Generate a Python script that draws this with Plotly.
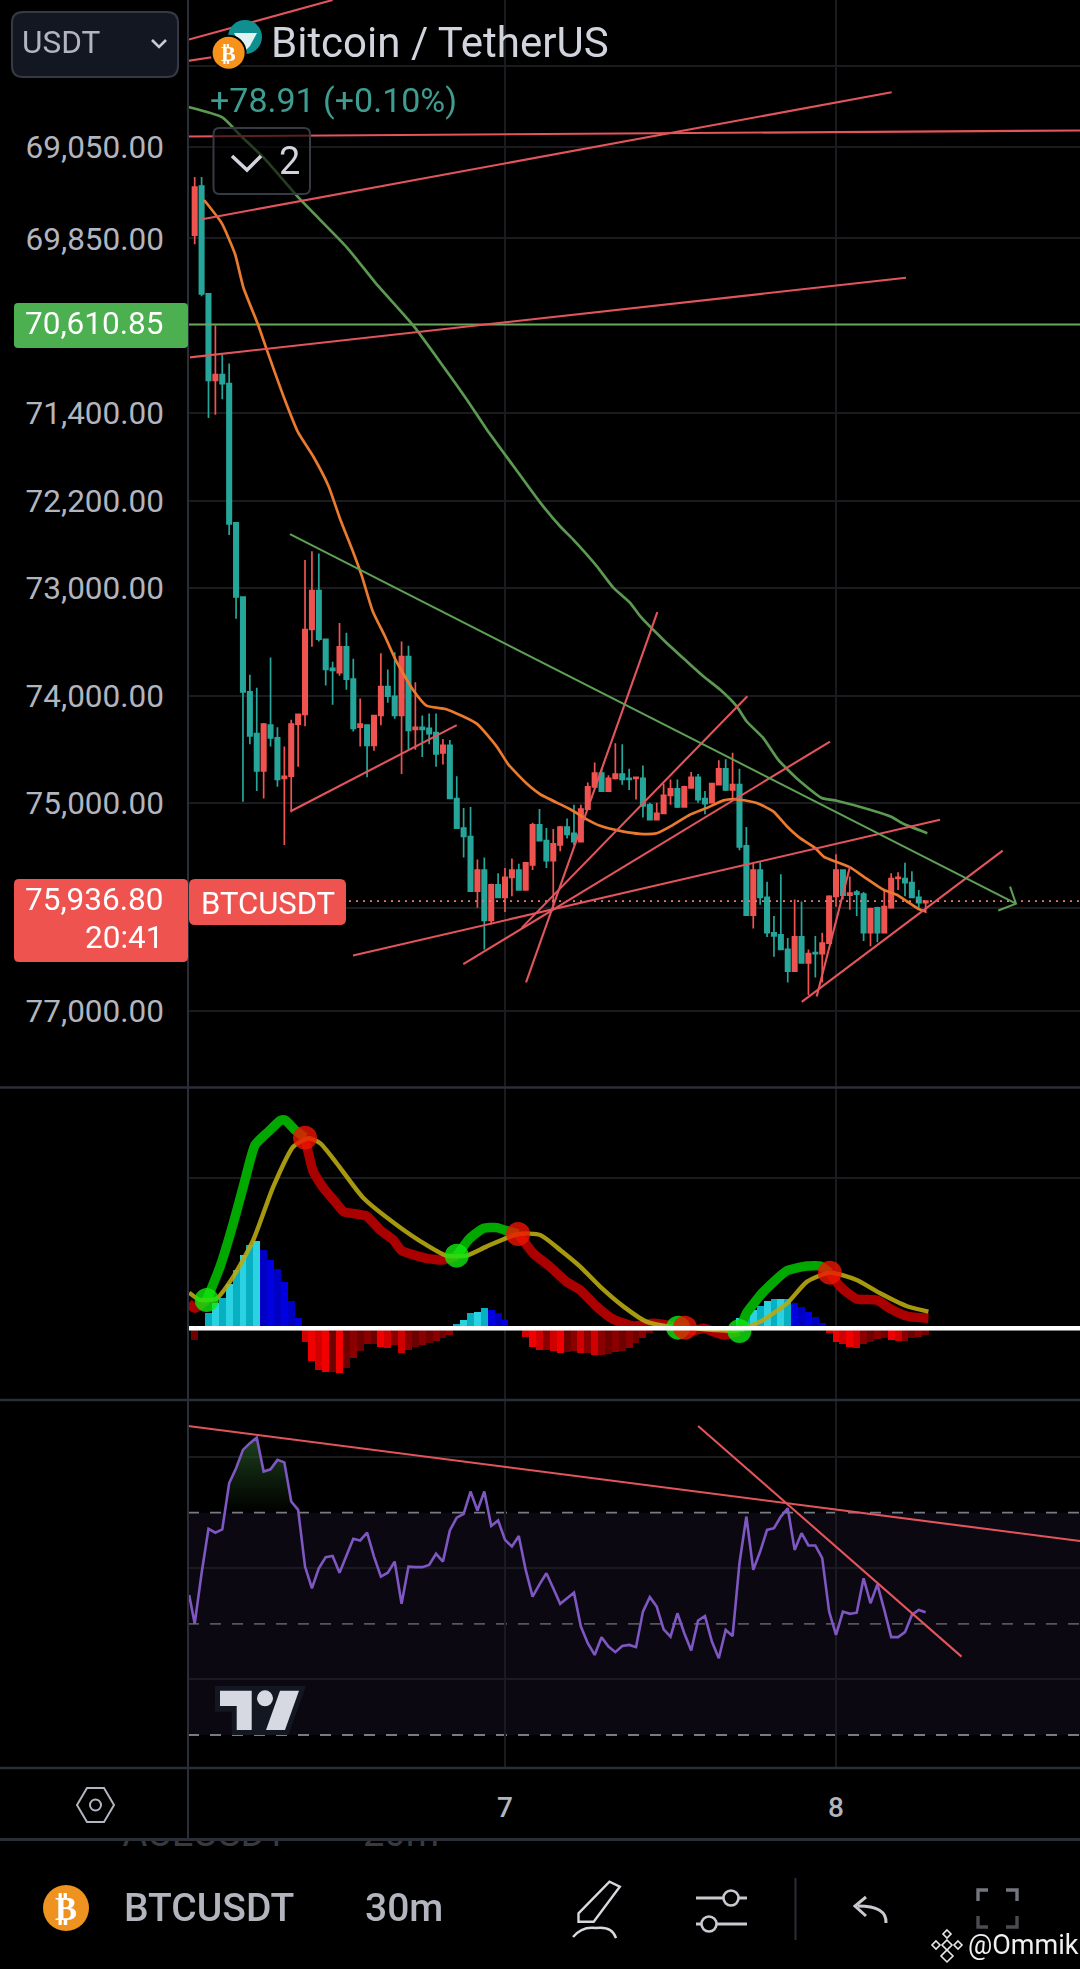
import math
import plotly.graph_objects as go

W, H = 1080, 1969

# ---- candles (30 minute bars, index 0..106) ----
open_ = [69820,69390,70340,71110,71060,71140,72400,73080,73960,74350,74700,74270,74390,74770,74750,74260,74170,73380,73020,73470,
73740,73780,73540,73840,74290,74270,74460,74180,73910,74000,74180,73630,74310,74290,74300,74340,74530,74460,74960,75240,
75320,75840,75640,76120,75780,75900,75710,75640,75830,75590,75210,75360,75550,75400,75230,75290,75370,75060,74850,74720,
74890,74770,74730,74770,74770,74770,75020,75160,75100,74930,74870,75040,74860,74760,74960,75000,74830,74680,74880,74830,
75410,76070,75640,75900,76240,76260,76400,76610,76280,76530,76430,76440,76340,75890,75640,75880,75850,75870,76240,76000,
76240,76000,75720,75720,75760,75900,75950]
close = [69400,70340,71110,71060,71140,72410,73080,73960,74370,74700,74260,74390,74780,74750,74260,74170,73380,73020,73470,73750,
73760,73540,73840,74300,74260,74460,74180,73910,74000,74180,73630,74320,74290,74310,74350,74540,74460,74960,75240,75320,
75840,75640,76120,75780,75900,75710,75640,75830,75570,75210,75360,75550,75390,75230,75300,75370,75060,74850,74720,74890,
74770,74730,74780,74780,74760,75030,75160,75100,74930,74870,75040,74850,74760,74970,75010,74820,74680,74880,74830,75420,
76070,75640,75900,76240,76270,76400,76610,76280,76530,76440,76440,76340,75890,75640,75880,75860,75870,76240,76010,76240,
75990,75720,75710,75760,75900,75950,75936.8]
low = [69310,69310,70340,70620,70880,70960,72400,73080,73800,73920,74250,73640,74290,74470,74220,74160,72740,72660,72680,73470,
73680,73320,73410,73650,74020,74270,74180,73600,73750,73590,73490,73530,73870,74180,74160,74160,74400,74410,74750,75050,
75040,75540,75520,75770,75670,75620,75530,75580,75570,75190,75060,75240,75250,75220,75150,75020,75020,74810,74620,74680,
74740,74440,74450,74680,74760,74650,75000,75000,74820,74780,74780,74840,74710,74730,74890,74820,74600,74590,74530,74680,
75230,75580,75560,75750,76080,75680,76290,75920,75940,76400,76270,76240,75880,75490,75640,75700,75830,75850,76000,75990,
75830,75670,75660,75570,75650,75830,75930]
high = [69900,70360,71450,71420,71280,72510,73280,74990,74450,74890,74960,74470,74850,75400,75090,74660,74280,73540,73490,73900,
74080,73810,73940,74330,74470,74760,74510,74270,74060,74210,74730,74500,74500,74570,74450,74660,74640,74960,75240,75520,
75850,76000,76400,76160,75910,76040,75890,75830,75830,75640,75360,75620,76020,75460,75340,75400,75370,75070,74860,74890,
74890,74780,74830,74880,74970,75140,75160,75160,75100,75020,75050,75040,74860,75000,75110,75000,74830,74890,74970,75450,
76070,76200,75970,76280,76470,76400,76720,76610,76530,76840,76670,76720,76340,75990,75920,76020,76080,76320,76370,76330,
76240,76010,75830,75890,75910,76020,76050]
candle_idx = list(range(len(open_)))

# ---- moving averages ----
ema_fast_idx = [1.36,3.9,5.85,7.06,9.23,10.5,12.9,15,17.2,19.4,21.1,23,24.2,25.8,27.6,29.3,31.7,33.6,36.5,40.9,43.8,45.5,48.1,50.1,
54.4,56.8,58.8,61.7,64.6,67,69.4,71.8,74.2,76.7,78.1,79.1,81.5,83.9,85.9,87.8,90,91.2,92.9,95,97,99.9,101.8,103.3,105,106]
ema_fast_val = [69512,69713,69987,70283,70620,70845,71257,71579,71797,72064,72367,72670,72879,73209,73445,73683,73944,74087,74121,74256,74471,74640,74817,74920,
75060,75155,75219,75267,75295,75289,75209,75114,75051,74978,74966,74972,75003,75082,75225,75336,75431,75511,75558,75612,75702,75828,75876,75940,76013,76035]
ema_slow_idx = [-0.92,4.02,6.69,10.2,15.27,22.09,26.22,31.66,36,39.45,42.35,46.16,50.08,52.98,54.9,58.3,60.7,63.13,64.6,67.95,71.35,73.76,76.18,78.6,80.05,82.46,84.63,87.53,90.92,93.1,97.93,101.08,102.76,106.24]
ema_slow_val = [68702,68792,68952,69155,69505,69930,70242,70618,70982,71282,71552,71878,72213,72431,72553,72796,72994,73133,73257,73474,73675,73814,73938,74095,74236,74392,74596,74784,74956,74981,75067,75136,75200,75289]

# ---- drawn trend lines on the price pane ----
LEFT_IDX, RIGHT_IDX = -0.97, 128.38
red_line_idx = [(-0.97,20),(-0.97,2.95),(-0.97,128.38),(1.06,101.07),(-0.68,103.15),(13.92,38),(48.05,67.09),(38.95,92.13),(47.42,80.14),(22.96,108.08),(88.03,117.17),(90.2,95.03)]
red_line_val = [(68122,67781),(68303,68268),(68957,68905),(69680,68574),(70905,70197),(75081,74270),(76719,73220),(76542,74424),(76193,74000),(76459,75162),(76907,75454),(76854,75605)]
green_level = 70610.85
last_price = 75936.8
arrow_idx = [13.82,119.1]
arrow_val = [72502,75960]
arrow_head_idx = [118.23,119.1,116.53]
arrow_head_val = [75797,75960,76026]

# ---- MACD pane ----
hist_val = [-35,5,47,75,90,133,175,220,250,263,235,205,178,140,83,30,
-40,-97,-125,-130,-130,-133,-120,-90,-67,-47,-47,-57,-59,-50,-75,-65,-57,-50,-43,-37,-30,-20,
13,25,47,50,60,55,47,25,5,-3,-25,-55,-65,-65,-67,-73,-72,-67,
-75,-75,-80,-80,-78,-72,-68,-58,-45,-30,-13,-5,-3,-2,1,-1,-4,-3,-3,-5,-5,-3,0,
30,50,55,67,82,87,88,89,75,63,50,35,17,
-13,-40,-47,-55,-60,-47,-40,-33,-30,-35,-37,-37,-30,-25,-20]
macd_segments = [
 ("red",[-0.9,0.05,1.74],[75,60,85]),
 ("green",[1.74,3.68,5.6,7.3,8.75,10.7,12.4,13.1,14.55,16],[85,185,315,445,550,590,623,625,595,572]),
 ("red",[16,16.5,17.2,18.7,20.35,21.6,24.9,26.9,28.8,30,33.6,36.05,38],[572,525,470,420,380,350,337,295,265,233,210,205,218]),
 ("green",[38,39.9,41.9,43.8,45.7,46.9],[218,270,300,302,290,283]),
 ("red",[46.9,49.1,51.5,53.9,55.9,58.3,60.7,63.6,66.5,68.4,70.1],[283,225,185,140,115,65,27,7,15,10,2]),
 ("green",[70.1,71.1],[2,2]),
 ("red",[71.1,72.3,73.8,75.2,76.7,79],[2,-7,0,-10,-20,-8]),
 ("green",[79,80,82.5,85.9,88.8,90.7,92.1],[-8,45,110,173,187,187,167]),
 ("red",[92.1,93.6,96,98.9,100.8,103.2,106.4],[167,125,88,85,60,37,30]),
]
signal_idx = [-0.8,0.8,3.2,5.6,8.5,11.4,14.3,16.5,18.2,20.6,24.5,29.3,33.6,36.5,39.4,42.3,46.9,50.1,53,55.9,58.8,62.2,65.5,68.9,72.3,75.2,78.6,82,85.9,88.8,92.1,96,99.4,103.2,106.4]
signal_val = [107,85,90,155,265,425,545,570,555,495,390,310,250,218,218,245,283,280,235,185,125,65,20,5,0,-5,-7,20,75,140,167,145,105,67,50]
cross_up_idx = [1.74,38,70.1,79]
cross_up_val = [85,218,2,-8]
cross_dn_idx = [16,46.9,71.1,92.1]
cross_dn_val = [572,283,2,167]

# ---- RSI pane ----
rsi_val = [50,59.1,67.1,66.4,67,75.3,78,81.3,82.5,83.5,77.4,77.8,79.5,79.05,72,70.5,60.3,56.4,60,62,62.2,59.2,62.1,65.3,65,66.4,62.1,58.5,59.2,61.2,
53.6,60.3,60.2,60.2,60.6,62.6,61.2,66.8,69.1,69.8,73.8,70.4,73.8,67.6,68.6,65.1,63.9,65.8,59.7,54.9,57.1,59.1,56.4,53.6,54.6,55.6,49.5,46.5,44.4,47.6,
45.9,44.9,46,46.2,45.8,52.2,54.8,53.1,49,47.7,51.9,48.3,45.2,50.6,51.4,46.8,43.8,48.9,47.8,60.9,69.3,59.7,63,66.9,67.2,69.3,70.8,63.3,66.3,64.1,
64.1,61.8,52.2,48,52.2,51.8,52,58.2,53.7,57.1,52.5,47.6,47.6,48.5,51.6,52.5,52.1]
rsi_head_idx = [-0.8]
rsi_head_val = [55.2]
rsi_over_idx = [4.72,5,6,7,8,9,10,11,12,13,14,15,15.1]
rsi_over_val = [70,75.3,78,81.3,82.5,83.5,77.4,77.8,79.5,79.05,72,70.5,70]
rsi_line_a_idx = [-0.97,128.38]
rsi_line_a_val = [85.6,64.9]
rsi_line_b_idx = [73,111.2]
rsi_line_b_val = [85.6,44.1]

# ---- axis ticks ----
price_ticks = [68350,69050,69850,71400,72200,73000,74000,75000,76000,77000]
price_text = ["","69,050.00","69,850.00","71,400.00","72,200.00","73,000.00","74,000.00","75,000.00","","77,000.00"]
day_ticks = [45,93]
day_text = ["7","8"]

TEAL, RED = "#26a69a", "#ef5350"
LINE_RED = "#e2555c"
GRID = "#1a1b1f"
SEP = "#2a2e39"
TXT = "#b2b5be"
FONT = "Roboto"


def dom(top, bottom):
    return [1 - bottom / H, 1 - top / H]


def fx(x):
    return x / W


def fy(y):
    return 1 - y / H


def pth(points, close_path=False):
    s = "M " + " L ".join(f"{fx(x):.5f} {fy(y):.5f}" for x, y in points)
    return s + (" Z" if close_path else "")


def rrect(x0, y0, x1, y1, r):
    return (
        f"M {fx(x0+r):.5f} {fy(y0):.5f} L {fx(x1-r):.5f} {fy(y0):.5f} "
        f"Q {fx(x1):.5f} {fy(y0):.5f} {fx(x1):.5f} {fy(y0+r):.5f} L {fx(x1):.5f} {fy(y1-r):.5f} "
        f"Q {fx(x1):.5f} {fy(y1):.5f} {fx(x1-r):.5f} {fy(y1):.5f} L {fx(x0+r):.5f} {fy(y1):.5f} "
        f"Q {fx(x0):.5f} {fy(y1):.5f} {fx(x0):.5f} {fy(y1-r):.5f} L {fx(x0):.5f} {fy(y0+r):.5f} "
        f"Q {fx(x0):.5f} {fy(y0):.5f} {fx(x0+r):.5f} {fy(y0):.5f} Z"
    )


fig = go.Figure()

# price pane
fig.add_trace(go.Candlestick(
    x=candle_idx, open=open_, high=high, low=low, close=close, xaxis="x", yaxis="y",
    increasing=dict(line=dict(color=TEAL, width=1.7), fillcolor=TEAL),
    decreasing=dict(line=dict(color=RED, width=1.7), fillcolor=RED),
    whiskerwidth=0, hoverinfo="skip",
))
fig.add_trace(go.Scatter(x=[LEFT_IDX, RIGHT_IDX], y=[last_price, last_price], mode="lines", xaxis="x", yaxis="y",
                         line=dict(color="#f0736f", width=1.6, dash="2px,5px")))
fig.add_trace(go.Scatter(x=[LEFT_IDX, RIGHT_IDX], y=[green_level, green_level], mode="lines", xaxis="x", yaxis="y",
                         line=dict(color="#6aa75e", width=2)))
fig.add_trace(go.Scatter(x=ema_slow_idx, y=ema_slow_val, mode="lines", xaxis="x", yaxis="y",
                         line=dict(color="#5b9a50", width=2.7, shape="spline", smoothing=0.5)))
fig.add_trace(go.Scatter(x=ema_fast_idx, y=ema_fast_val, mode="lines", xaxis="x", yaxis="y",
                         line=dict(color="#ea7a2e", width=2.7, shape="spline", smoothing=0.5)))
for xs, ys in zip(red_line_idx, red_line_val):
    fig.add_trace(go.Scatter(x=list(xs), y=list(ys), mode="lines", xaxis="x", yaxis="y",
                             line=dict(color=LINE_RED, width=2.1)))
fig.add_trace(go.Scatter(x=arrow_idx, y=arrow_val, mode="lines", xaxis="x", yaxis="y",
                         line=dict(color="#5f9f56", width=2)))
fig.add_trace(go.Scatter(x=arrow_head_idx, y=arrow_head_val, mode="lines", xaxis="x", yaxis="y",
                         line=dict(color="#5f9f56", width=2)))

# MACD pane: colour follows sign and direction, with the striped look of the capture
hist_colors = []
for k, v in enumerate(hist_val):
    prev = hist_val[k - 1] if k else v
    odd = k % 2 == 1
    if v >= 0:
        hist_colors.append(("#2bd3e2" if odd else "#07b0c0") if v >= prev else ("#0000e0" if odd else "#0000c4"))
    else:
        hist_colors.append(("#f20000" if odd else "#d00000") if v < prev else ("#8a0000" if odd else "#6e0000"))
fig.add_trace(go.Bar(x=candle_idx, y=hist_val, marker=dict(color=hist_colors, line=dict(width=0)), xaxis="x2", yaxis="y2"))
MACD_COL = {"red": "#ab0000", "green": "#00a800"}
for name, xs, ys in macd_segments:
    fig.add_trace(go.Scatter(x=xs, y=ys, mode="lines", xaxis="x2", yaxis="y2",
                             line=dict(color=MACD_COL[name], width=9.5, shape="spline", smoothing=0.5)))
fig.add_trace(go.Scatter(x=signal_idx, y=signal_val, mode="lines", xaxis="x2", yaxis="y2", opacity=0.9,
                         line=dict(color="#b9aa12", width=4.4, shape="spline", smoothing=0.6)))
fig.add_trace(go.Scatter(x=cross_up_idx, y=cross_up_val, mode="markers", xaxis="x2", yaxis="y2", opacity=0.8,
                         marker=dict(color="#0fe80f", size=24, line=dict(width=0))))
fig.add_trace(go.Scatter(x=cross_dn_idx, y=cross_dn_val, mode="markers", xaxis="x2", yaxis="y2", opacity=0.8,
                         marker=dict(color="#ee1500", size=24, line=dict(width=0))))

# RSI pane
fig.add_trace(go.Scatter(x=rsi_over_idx, y=rsi_over_val, mode="lines", xaxis="x3", yaxis="y3",
                         line=dict(width=0), fill="toself",
                         fillgradient=dict(type="vertical", colorscale=[[0, "rgba(30,70,30,0)"], [1, "rgba(34,78,34,0.85)"]])))
fig.add_trace(go.Scatter(x=rsi_head_idx + candle_idx, y=rsi_head_val + rsi_val, mode="lines", xaxis="x3", yaxis="y3",
                         line=dict(color="#7e57c2", width=2.6)))
fig.add_trace(go.Scatter(x=rsi_line_a_idx, y=rsi_line_a_val, mode="lines", xaxis="x3", yaxis="y3",
                         line=dict(color=LINE_RED, width=2.1)))
fig.add_trace(go.Scatter(x=rsi_line_b_idx, y=rsi_line_b_val, mode="lines", xaxis="x3", yaxis="y3",
                         line=dict(color=LINE_RED, width=2.1)))

# ghost row scrolled behind the bottom bar (clipped by its own strip of plot area)
fig.add_trace(go.Scatter(x=[205, 401], y=[1.5, 1.5], mode="text", text=["ACEUSDT", "20m"], xaxis="x4", yaxis="y4",
                         textposition="middle center", textfont=dict(family=FONT, size=38, color="#3a3a3e"), cliponaxis=True))

# ---- shapes ----
shapes = []


def add_shape(path, fill=None, line=None, width=0, layer="above"):
    d = dict(type="path", path=path, xref="paper", yref="paper", layer=layer,
             line=dict(width=width, color=line or "rgba(0,0,0,0)"))
    if fill:
        d["fillcolor"] = fill
    shapes.append(d)


def add_circle(cx, cy, r, fill=None, line=None, width=0):
    d = dict(type="circle", xref="paper", yref="paper", x0=fx(cx - r), x1=fx(cx + r), y0=fy(cy - r), y1=fy(cy + r),
             layer="above", line=dict(width=width, color=line or "rgba(0,0,0,0)"))
    if fill:
        d["fillcolor"] = fill
    shapes.append(d)


# RSI band and dashed levels
shapes.append(dict(type="rect", xref="x3 domain", yref="y3", x0=0, x1=1, y0=30, y1=70, layer="below",
                   fillcolor="rgba(126,87,194,0.09)", line=dict(width=0)))
for lvl, col in [(70, "#787b86"), (50, "#55565e"), (30, "#787b86")]:
    shapes.append(dict(type="line", xref="x3 domain", yref="y3", x0=0, x1=1, y0=lvl, y1=lvl, layer="below",
                       line=dict(color=col, width=1.8, dash="11px,11px")))
# MACD zero line
shapes.append(dict(type="line", xref="x2 domain", yref="y2", x0=0, x1=1, y0=0, y1=0, layer="above",
                   line=dict(color="#ffffff", width=4.6)))
# separators
for y, wd in [(1087.5, 2.4), (1400, 2.4), (1768, 2.4), (1839.5, 3)]:
    add_shape(pth([(0, y), (W, y)]), line=SEP, width=wd)
add_shape(pth([(188, 0), (188, 1839)]), line=SEP, width=2)

# value tags
add_shape(rrect(14, 303, 188, 348, 4), fill="#4caf50")
add_shape(rrect(14, 879, 188, 962, 5), fill=RED)
add_shape(rrect(189, 879, 346, 925, 6), fill=RED)
# top controls
add_shape(rrect(12, 12, 178, 77, 11), fill="#131722", line="#363a45", width=2)
add_shape(pth([(152, 40), (159, 47), (166, 40)]), line="#c8cad0", width=2.6)
add_shape(rrect(213.5, 128, 310, 194, 6), fill="rgba(0,0,0,0.6)", line="#363a45", width=2)
add_shape(pth([(232, 156), (247, 170), (261, 156)]), line="#d1d4dc", width=3.6)
# coins
add_circle(245, 37, 17, fill="#0f8f8f")
add_shape(pth([(234, 33), (257, 33), (250, 46), (246, 50), (240, 44)], True), fill="#dff3f3")
add_circle(228.6, 52.7, 18, fill="#000000")
add_circle(228.6, 52.7, 16, fill="#f7931a")
# TradingView mark
add_shape(pth([(215, 1686), (306, 1686), (288.3, 1735), (231.7, 1735), (231.7, 1711.7), (215, 1711.7)], True), fill="#131722")
add_shape(pth([(220, 1690.7), (251.7, 1690.7), (251.7, 1730), (236.7, 1730), (236.7, 1706), (220, 1706)], True), fill="#d6d8e2")
add_circle(265, 1698.3, 8, fill="#d6d8e2")
add_shape(pth([(280, 1690.7), (299, 1690.7), (285, 1730), (266, 1730)], True), fill="#d6d8e2")
# settings hexagon
add_shape(pth([(87, 1788), (104, 1788), (114, 1805), (104, 1822), (87, 1822), (77, 1805)], True), line=TXT, width=2)
add_circle(95.5, 1805, 5.5, line=TXT, width=2)
# bottom bar
add_circle(66, 1908, 23, fill="#ee9320")
add_shape(pth([(578.5, 1913.3), (609.5, 1881.7), (619.8, 1886.7), (593.7, 1921.7), (578.5, 1921.7)], True), line="#d6d8dd", width=2.4)
add_shape(f"M {fx(573):.5f} {fy(1937):.5f} Q {fx(582):.5f} {fy(1926):.5f} {fx(596):.5f} {fy(1928):.5f} Q {fx(612):.5f} {fy(1926):.5f} {fx(616):.5f} {fy(1938):.5f}", line="#d6d8dd", width=2.4)
add_shape(pth([(696, 1898), (723, 1898)]), line="#c8cad0", width=3)
add_shape(pth([(739, 1898), (747, 1898)]), line="#c8cad0", width=3)
add_circle(731, 1898, 7.5, line="#c8cad0", width=2.6)
add_shape(pth([(696, 1924), (701, 1924)]), line="#c8cad0", width=3)
add_shape(pth([(717, 1924), (747, 1924)]), line="#c8cad0", width=3)
add_circle(709, 1924, 7.5, line="#c8cad0", width=2.6)
add_shape(pth([(795.5, 1878), (795.5, 1940)]), line=SEP, width=2)
add_shape(f"M {fx(886):.5f} {fy(1923):.5f} Q {fx(887):.5f} {fy(1906):.5f} {fx(858):.5f} {fy(1906):.5f}", line="#c8cad0", width=3)
add_shape(pth([(866, 1897), (855, 1906), (866, 1916)]), line="#c8cad0", width=3)
for corner in ([(978, 1901), (978, 1890), (988, 1890)], [(1006, 1890), (1017, 1890), (1017, 1901)]):
    add_shape(pth(corner), line="#73767e", width=3.4)
for corner in ([(978, 1916), (978, 1927), (988, 1927)], [(1006, 1927), (1017, 1927), (1017, 1916)]):
    add_shape(pth(corner), line="#4a4c52", width=3.4)
# watermark diamonds
for cx, cy, r in [(947, 1934, 4), (947, 1945, 5), (947, 1956, 6), (936, 1945, 4), (958, 1945, 4)]:
    add_shape(pth([(cx, cy - r), (cx + r, cy), (cx, cy + r), (cx - r, cy)], True), line="#e8e8e8", width=1.6)

# ---- text ----
annots = []


def label(text, x, y, size, color, anchor="left", weight=None, family=FONT):
    annots.append(dict(text=text, x=fx(x), y=fy(y), xref="paper", yref="paper", showarrow=False, xanchor=anchor, yanchor="middle",
                       font=dict(family=family, size=size, color=color, weight=weight or 400)))


label("USDT", 20, 43, 31.5, TXT)
label("Bitcoin / TetherUS", 269, 43, 42, "#d1d4dc")
label("+78.91 (+0.10%)", 208, 100, 34, "#3e9c90")
label("2", 289, 161, 38, "#d1d4dc", "center")
label("70,610.85", 165, 323, 31.5, "#ffffff", "right")
label("75,936.80", 165, 899, 31.5, "#ffffff", "right")
label("20:41", 165, 937, 31.5, "#ffffff", "right")
label("BTCUSDT", 268, 903, 31, "#ffffff", "center")
label("₿", 228.6, 53, 22, "#ffffff", "center", 700, "DejaVu Sans")
label("₿", 66, 1908, 33, "#ffffff", "center", 700, "DejaVu Sans")
label("BTCUSDT", 122, 1908, 39, TXT, "left", 500)
label("30m", 363, 1908, 39, TXT, "left", 500)
label("@Ommik", 966, 1945, 27, "#f0f0f0")

axis_common = dict(range=[LEFT_IDX, RIGHT_IDX], domain=[188 / W, 1], showline=False, zeroline=False, fixedrange=True,
                   tickmode="array", tickvals=day_ticks, showgrid=True, gridcolor=GRID, gridwidth=1.5, ticks="")
y_common = dict(anchor="x", side="left", showline=False, zeroline=False, fixedrange=True, gridcolor=GRID, gridwidth=1.5, ticks="")

fig.update_layout(
    width=W, height=H, margin=dict(l=0, r=0, t=0, b=0), paper_bgcolor="#000000", plot_bgcolor="#000000",
    showlegend=False, hovermode=False, bargap=0, boxgap=0.1, dragmode=False,
    font=dict(family=FONT, color=TXT),
    xaxis=dict(axis_common, anchor="y", showticklabels=False, rangeslider=dict(visible=False)),
    xaxis2=dict(axis_common, anchor="y2", showticklabels=False),
    xaxis3=dict(axis_common, anchor="y3", ticktext=day_text, showticklabels=True,
                tickfont=dict(family=FONT, size=28, color=TXT, weight=500), ticklabelstandoff=20),
    xaxis4=dict(range=[0, W], domain=[0, 1], anchor="y4", visible=False, fixedrange=True),
    yaxis=dict(y_common, type="log", domain=dom(0, 1087),
               range=[math.log10(77737), math.log10(67781)],
               tickmode="array", tickvals=price_ticks, ticktext=price_text,
               tickfont=dict(family=FONT, size=31.5, color=TXT), ticklabelstandoff=23),
    yaxis2=dict(y_common, anchor="x2", domain=dom(1088, 1400), range=[-215.1, 720.9], tickmode="array", tickvals=[450], showticklabels=False),
    yaxis3=dict(y_common, anchor="x3", domain=dom(1400, 1768), range=[24.06, 90.27], tickmode="array", tickvals=[40, 60, 80], showticklabels=False),
    yaxis4=dict(range=[0, 1], domain=dom(1841, 1850), anchor="x4", visible=False, fixedrange=True),
    shapes=shapes, annotations=annots,
)

fig.write_html("out.html", config=dict(displayModeBar=False, responsive=False),
               post_script="document.body.style.margin='0';document.body.style.background='#000';")
